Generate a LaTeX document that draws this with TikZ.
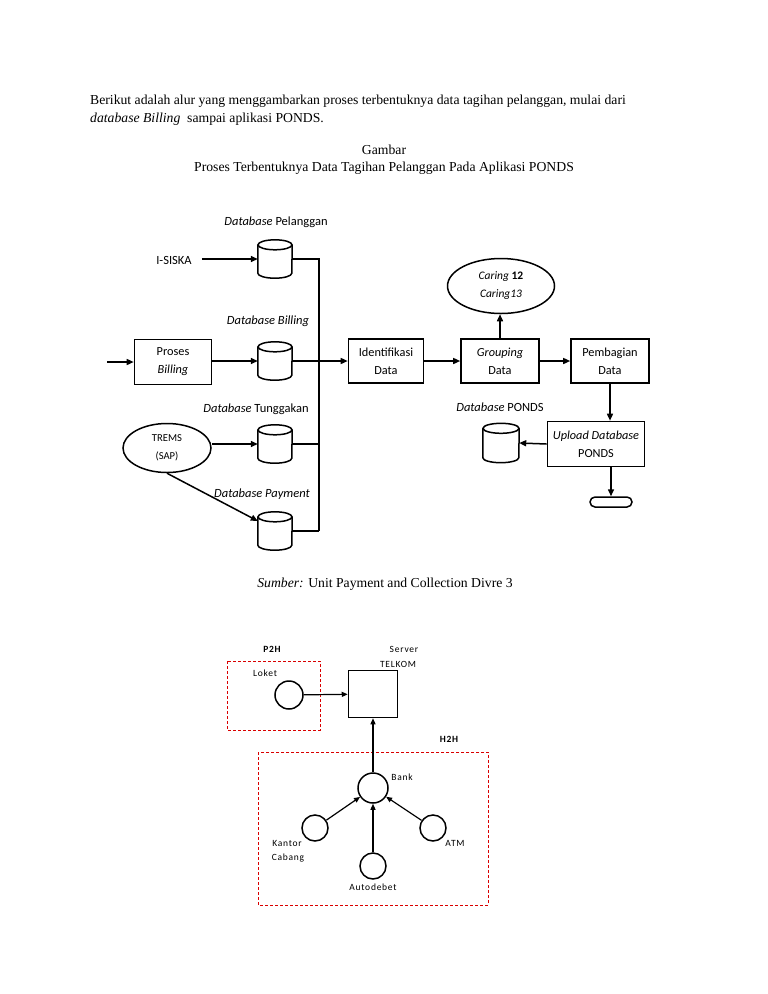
\documentclass[tikz,border=0pt]{standalone}
\usepackage{fontspec}
\setmainfont{Liberation Serif}
\newfontfamily\dg{Carlito}
\newfontfamily\dgs[LetterSpace=8]{Carlito}
\usetikzlibrary{shapes.geometric,arrows.meta}
\newcommand\dbcyl[5]{%
 \node[inner sep=0, minimum width=#4, minimum height=#5] (#1) at (#2,#3) {};
 \draw[cyl] ([yshift=-5pt]#1.north west) -- ([yshift=5pt]#1.south west)
   arc (180:360:0.5*#4 and 5pt) -- ([yshift=-5pt]#1.north east);
 \draw[cyl] ([yshift=-5pt]#1.north) ellipse (0.5*#4 and 5pt);
}
\begin{document}
\begin{tikzpicture}[x=1pt,y=1pt,
 lbl/.style={font=\dg\fontsize{12.5}{14}\selectfont, inner sep=0},
 body/.style={font=\fontsize{13.7}{16}\selectfont, inner sep=0},
 proc/.style={draw, line width=1.6pt, minimum width=77pt, minimum height=44pt, inner sep=0,
   align=center, font=\dg\fontsize{12.3}{18}\selectfont},
 cyl/.style={line width=1.5pt},
 ln/.style={line width=1.5pt},
 arr/.style={line width=1.5pt, -{Triangle[length=7pt,width=6pt]}},
 arr2/.style={line width=1.2pt, -{Triangle[length=6pt,width=5pt]}},
 circ/.style={draw, circle, line width=1.5pt, inner sep=0},
 small/.style={font=\dgs\fontsize{9.5}{11}\selectfont, inner sep=0},
 dashbox/.style={draw=red!85!black, line width=1pt, dash pattern=on 3pt off 2pt}
]
\useasboundingbox (0,0) rectangle (768,-994);

% body text
\node[body, anchor=base west] (t1) at (90,-104) {Berikut adalah alur yang menggambarkan proses terbentuknya data tagihan pelanggan, mulai dari};
\node[body, anchor=base west] (t2) at (90,-122) {\textit{database Billing}\ \ sampai aplikasi PONDS.};
\node[body, anchor=base] (t3) at (384,-154) {Gambar};
\node[body, anchor=base] (t4) at (384,-171) {Proses Terbentuknya Data Tagihan Pelanggan Pada Aplikasi PONDS};

% upper diagram
\node[lbl] (lpel) at (276,-222) {\textit{Database} Pelanggan};
\dbcyl{pel}{275}{-259}{34pt}{38pt}
\node[lbl] (isiska) at (174,-260) {I-SISKA};
\draw[arr] ([xshift=10pt]isiska.east |- pel.west) -- (pel.west);

\node[lbl] (lbil) at (268,-321) {\textit{Database Billing}};
\dbcyl{bil}{275}{-361}{34pt}{38pt}
\node[proc, minimum width=77pt, minimum height=45pt] (proses) at (173,-362) {Proses\\\textit{Billing}};
\coordinate (pin) at (107,-362);
\draw[arr] (pin) -- (proses.west);
\draw[arr] (proses.east |- bil.west) -- (bil.west);

\node[lbl] (ltun) at (256,-409) {\textit{Database} Tunggakan};
\dbcyl{tun}{275}{-444}{34pt}{38pt}
\node[draw, ellipse, line width=1.5pt, minimum width=88pt, minimum height=49pt, inner sep=0, align=center,
  font=\dg\fontsize{10.6}{18}\selectfont] (trems) at (167,-448) {TREMS\\(SAP)};
\draw[arr] (trems.east |- tun.west) -- (tun.west);

\node[lbl] (lpay) at (262,-494) {\textit{Database Payment}};
\dbcyl{pay}{275}{-531}{34pt}{38pt}
\draw[arr] (trems.south) -- ([yshift=10pt]pay.west);

\coordinate (busb) at (319,-531);
\draw[ln] (pel.east) -| (busb);
\draw[ln] (pay.east) -- (busb);
\draw[ln] (tun.east) -- (tun.east -| busb);

\node[proc, minimum width=75pt] (ident) at (386,-361) {Identifikasi\\Data};
\node[proc, minimum width=78pt] (group) at (500,-361) {\textit{Grouping}\\Data};
\node[proc, minimum width=78pt] (bagi) at (610,-361) {Pembagian\\Data};
\draw[arr] (bil.east) -- (ident.west);
\draw[arr] (ident) -- (group);
\draw[arr] (group) -- (bagi);

\node[draw, ellipse, line width=1.5pt, minimum width=107pt, minimum height=55pt, inner sep=0, align=center,
  font=\dg\fontsize{11.5}{18}\selectfont] (caring) at (501,-286) {\textit{Caring} \textbf{12}\\\textit{Caring13}};
\draw[arr] (group.north) -- (group.north |- caring.south);

\node[lbl] (lponds) at (500,-407) {\textit{Database} PONDS};
\dbcyl{ponds}{501}{-443}{36pt}{39pt}
\node[proc, minimum width=97pt, minimum height=45pt] (upload) at (596,-444) {\textit{Upload Database}\\PONDS};
\draw[arr] (bagi.south) -- (bagi.south |- upload.north);
\draw[arr] (upload.west) -- (ponds.east);
\node[draw, line width=1.5pt, rounded corners=5pt, minimum width=42pt, minimum height=10pt, inner sep=0] (term) at (611,-502) {};
\draw[arr] (upload.south -| term.north) -- (term.north);

\node[body, anchor=base] (src) at (385,-587) {\textit{Sumber:} Unit Payment and Collection Divre 3};

% lower diagram
\draw[dashbox] (227,-661) rectangle (320,-730);
\draw[dashbox] (258,-752) rectangle (488,-905);
\node[small, font=\dgs\bfseries\fontsize{9.5}{11}\selectfont] (p2h) at (272,-649) {P2H};
\node[small] (lloket) at (265,-673) {Loket};
\node[circ, minimum size=28pt] (loket) at (289,-695) {};
\node[small] (lserv) at (404,-649) {Server};
\node[small] (ltel) at (398,-664) {TELKOM};
\node[draw, line width=1.5pt, minimum width=49pt, minimum height=47pt, inner sep=0] (server) at (373,-694) {};
\draw[arr2] (loket) -- (server);
\node[small, font=\dgs\bfseries\fontsize{9.5}{11}\selectfont] (h2h) at (449,-739) {H2H};
\node[circ, minimum size=30pt] (bank) at (373,-788) {};
\node[small] (lbank) at (402,-777) {Bank};
\draw[arr2] (bank) -- (server);
\node[circ, minimum size=26pt] (kantor) at (315,-828) {};
\node[circ, minimum size=26pt] (atm) at (433,-828) {};
\node[circ, minimum size=26pt] (auto) at (373,-866) {};
\node[small] (lk1) at (287,-843) {Kantor};
\node[small] (lk2) at (288,-858) {Cabang};
\node[small] (latm) at (455,-843) {ATM};
\node[small] (lauto) at (373,-887) {Autodebet};
\draw[arr2] (kantor) -- (bank);
\draw[arr2] (atm) -- (bank);
\draw[arr2] (auto) -- (bank);
\end{tikzpicture}
\end{document}
